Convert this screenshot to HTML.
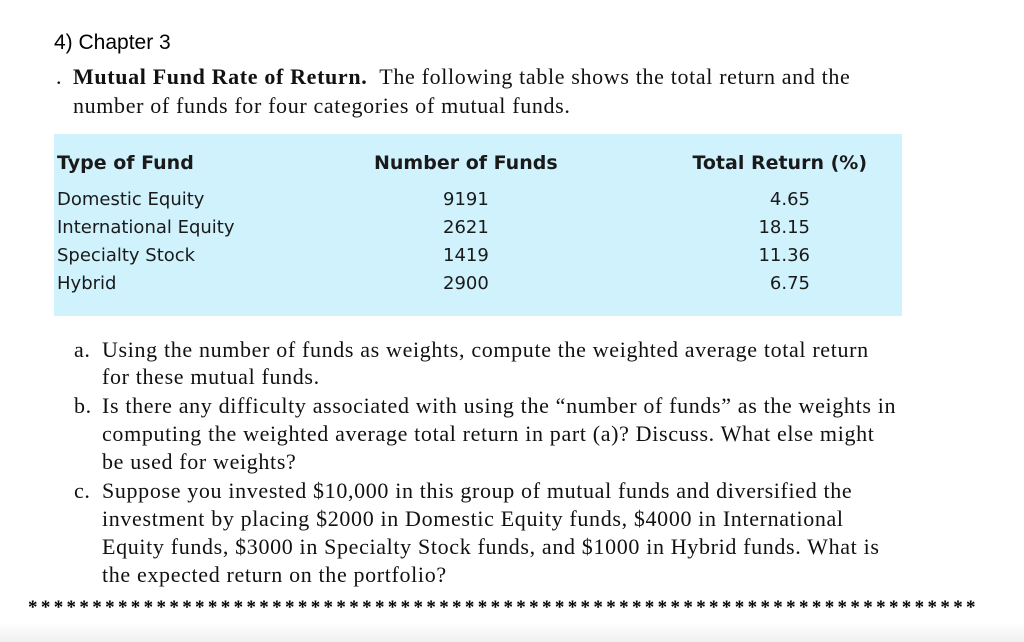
<!DOCTYPE html>
<html><head><meta charset="utf-8"><style>
body{margin:0;width:1024px;height:642px;background:#fff;position:relative;overflow:hidden;color:#111}
.s{position:absolute;font-family:"Liberation Serif",serif;font-size:22px;letter-spacing:0.65px;white-space:nowrap;line-height:1}
.a{position:absolute;font-family:"DejaVu Sans","Liberation Sans",sans-serif;font-size:18px;white-space:nowrap;line-height:1;color:#1a1a1a}
.h{font-weight:bold;font-family:"DejaVu Sans",sans-serif;font-size:19px}
</style></head><body>
<div class="a" style="left:54px;top:32px;font-family:'Liberation Sans',sans-serif;font-size:21px;color:#000">4) Chapter 3</div>
<div class="s" style="left:56px;top:66px">.</div>
<div class="s" style="left:73px;top:66px"><b>Mutual Fund Rate of Return.</b>&nbsp; The following table shows the total return and the</div>
<div class="s" style="left:73px;top:95px">number of funds for four categories of mutual funds.</div>
<div style="position:absolute;left:54px;top:134px;width:848px;height:182px;background:#cff2fd"></div>
<div class="a h" style="left:57px;top:154px">Type of Fund</div>
<div class="a h" style="left:374px;top:154px">Number of Funds</div>
<div class="a h" style="left:680px;top:154px;width:187px;text-align:right">Total Return (%)</div>
<div class="a" style="left:57px;top:191px">Domestic Equity</div>
<div class="a" style="left:57px;top:219px">International Equity</div>
<div class="a" style="left:57px;top:247px">Specialty Stock</div>
<div class="a" style="left:57px;top:275px">Hybrid</div>
<div class="a" style="left:443px;top:191px">9191</div>
<div class="a" style="left:443px;top:219px">2621</div>
<div class="a" style="left:443px;top:247px">1419</div>
<div class="a" style="left:443px;top:275px">2900</div>
<div class="a" style="left:700px;top:191px;width:110px;text-align:right">4.65</div>
<div class="a" style="left:700px;top:219px;width:110px;text-align:right">18.15</div>
<div class="a" style="left:700px;top:247px;width:110px;text-align:right">11.36</div>
<div class="a" style="left:700px;top:275px;width:110px;text-align:right">6.75</div>
<div class="s" style="left:74px;top:339px">a.</div>
<div class="s" style="left:102px;top:339px">Using the number of funds as weights, compute the weighted average total return</div>
<div class="s" style="left:102px;top:366px">for these mutual funds.</div>
<div class="s" style="left:74px;top:395px">b.</div>
<div class="s" style="left:102px;top:395px">Is there any difficulty associated with using the “number of funds” as the weights in</div>
<div class="s" style="left:102px;top:423px">computing the weighted average total return in part (a)? Discuss. What else might</div>
<div class="s" style="left:102px;top:451px">be used for weights?</div>
<div class="s" style="left:74px;top:480px">c.</div>
<div class="s" style="left:102px;top:480px">Suppose you invested $10,000 in this group of mutual funds and diversified the</div>
<div class="s" style="left:102px;top:508px">investment by placing $2000 in Domestic Equity funds, $4000 in International</div>
<div class="s" style="left:102px;top:536px">Equity funds, $3000 in Specialty Stock funds, and $1000 in Hybrid funds. What is</div>
<div class="s" style="left:102px;top:564px">the expected return on the portfolio?</div>
<div class="s" style="left:28px;top:598px;font-size:19px;font-weight:bold;letter-spacing:3.35px;color:#000">**************************************************************************</div>
<div style="position:absolute;left:0;top:622px;width:1024px;height:20px;background:linear-gradient(#fff,#f0f0f0)"></div>
</body></html>
